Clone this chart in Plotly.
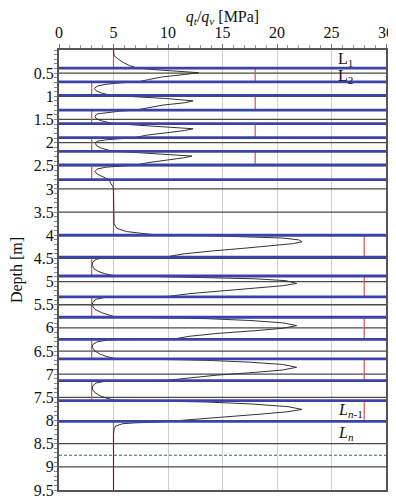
import plotly.graph_objects as go

# Layer boundaries (depth, m) - blue lines
boundaries = [0.39, 0.69, 0.98, 1.30, 1.59, 1.89, 2.19, 2.48, 2.80, 4.00,
              4.47, 4.88, 5.33, 5.77, 6.25, 6.67, 7.14, 7.57, 8.02]
# Design (step) profile: layer tops/bottoms and values
layer_tops = [0.0, 0.39, 0.69, 0.98, 1.30, 1.59, 1.89, 2.19, 2.48, 2.80,
              4.00, 4.47, 4.88, 5.33, 5.77, 6.25, 6.67, 7.14, 7.57, 8.02]
layer_bots = [0.39, 0.69, 0.98, 1.30, 1.59, 1.89, 2.19, 2.48, 2.80, 4.00,
              4.47, 4.88, 5.33, 5.77, 6.25, 6.67, 7.14, 7.57, 8.02, 9.5]
layer_q = [5, 18, 3, 18, 3, 18, 3, 18, 3, 5,
           28, 3, 28, 3, 28, 3, 28, 3, 28, 5]

# Measured profile (depth, q)
curve_depth = [
    0.00, 0.12, 0.19, 0.27, 0.34, 0.39,
    0.42, 0.45, 0.49, 0.53, 0.58, 0.64, 0.69,
    0.71, 0.74, 0.78, 0.83, 0.88, 0.93, 0.98,
    1.01, 1.05, 1.10, 1.14, 1.19, 1.25, 1.30,
    1.32, 1.35, 1.38, 1.43, 1.48, 1.53, 1.58,
    1.62, 1.66, 1.70, 1.74, 1.79, 1.84, 1.89,
    1.91, 1.94, 1.97, 2.02, 2.07, 2.12, 2.18,
    2.21, 2.25, 2.29, 2.33, 2.38, 2.43, 2.48,
    2.50, 2.53, 2.57, 2.62, 2.68, 2.74, 2.80,
    2.88, 2.95, 3.05, 3.60, 3.75, 3.85, 3.92, 3.97,
    4.00, 4.01, 4.03, 4.06, 4.10, 4.14, 4.18, 4.23, 4.28, 4.34, 4.40, 4.46,
    4.48, 4.52, 4.58, 4.65, 4.72, 4.78, 4.83, 4.87,
    4.89, 4.91, 4.94, 4.98, 5.04, 5.09, 5.14, 5.20, 5.26, 5.32,
    5.34, 5.38, 5.45, 5.52, 5.60, 5.67, 5.73, 5.76,
    5.78, 5.80, 5.84, 5.89, 5.95, 6.01, 6.06, 6.12, 6.18, 6.24,
    6.26, 6.30, 6.36, 6.42, 6.50, 6.57, 6.62, 6.66,
    6.68, 6.70, 6.74, 6.79, 6.85, 6.91, 6.96, 7.02, 7.08, 7.13,
    7.15, 7.19, 7.25, 7.32, 7.40, 7.47, 7.52, 7.56,
    7.58, 7.60, 7.64, 7.70, 7.76, 7.81, 7.86, 7.92, 7.97, 8.01,
    8.03, 8.05, 8.07, 8.12, 8.18, 8.30, 9.50,
]
curve_q = [
    5.0, 5.05, 5.4, 5.9, 6.5, 7.2,
    8.5, 10.5, 12.8, 11.5, 9.5, 8.2, 7.2,
    5.6, 4.3, 3.5, 3.25, 3.4, 3.9, 4.8,
    7.0, 10.0, 12.3, 11.5, 9.5, 8.0, 7.0,
    5.6, 4.3, 3.5, 3.3, 3.4, 3.9, 4.8,
    7.0, 10.0, 12.3, 11.5, 9.5, 8.0, 7.0,
    5.6, 4.3, 3.5, 3.35, 3.45, 3.9, 4.8,
    7.0, 10.0, 12.2, 11.4, 9.5, 8.2, 7.2,
    5.6, 4.3, 3.5, 3.3, 3.5, 4.0, 4.6,
    4.75, 4.95, 5.0, 5.0, 5.05, 5.3, 6.2, 8.0,
    9.5, 14.0, 17.5, 20.5, 22.0, 22.3, 21.5, 19.5, 17.0, 14.0, 11.5, 10.0,
    4.2, 3.4, 3.1, 3.05, 3.2, 3.6, 4.2, 5.0,
    9.0, 14.0, 18.0, 20.8, 21.8, 20.5, 17.8, 14.5, 12.0, 10.0,
    4.3, 3.4, 3.1, 3.05, 3.3, 3.9, 4.6, 5.1,
    9.0, 13.5, 17.5, 20.5, 21.8, 20.5, 18.0, 14.5, 12.0, 10.5,
    4.5, 3.5, 3.1, 3.05, 3.3, 3.8, 4.4, 5.1,
    9.0, 13.5, 17.5, 20.5, 21.8, 20.5, 18.0, 14.5, 12.0, 10.0,
    4.3, 3.4, 3.1, 3.05, 3.3, 3.8, 4.4, 5.1,
    9.0, 13.5, 17.5, 21.0, 22.3, 21.0, 18.6, 15.5, 13.1, 11.0,
    9.4, 7.0, 5.8, 5.2, 5.05, 5.0, 5.0,
]

dashed_depth = 8.75
grid_depths = [0.5 * i for i in range(1, 19)]
ytick_vals = [0.5 * i for i in range(1, 20)]
ytick_text = ["0.5", "1", "1.5", "2", "2.5", "3", "3.5", "4", "4.5", "5",
              "5.5", "6", "6.5", "7", "7.5", "8", "8.5", "9", "9.5"]
xtick_vals = [0, 5, 10, 15, 20, 25, 30]

FONT = "Liberation Serif"
BLUE = "#3a43a8"

fig = go.Figure()

# horizontal dark grid lines every 0.5 m
for d in grid_depths:
    fig.add_trace(go.Scatter(x=[0, 30], y=[d, d], mode="lines",
                             line=dict(color="#4a4a4a", width=1.3),
                             hoverinfo="skip", showlegend=False))
# dashed line
fig.add_trace(go.Scatter(x=[0, 30], y=[dashed_depth, dashed_depth], mode="lines",
                         line=dict(color="#3d6b4d", width=1, dash="3px,2px"),
                         hoverinfo="skip", showlegend=False))

# design step profile (red)
step_x, step_y = [], []
for t, b, q in zip(layer_tops, layer_bots, layer_q):
    step_x += [q, q]
    step_y += [t, b]
fig.add_trace(go.Scatter(x=step_x, y=step_y, mode="lines",
                         line=dict(color="#d9534f", width=1.2),
                         hoverinfo="skip", showlegend=False))

# measured curve
fig.add_trace(go.Scatter(x=curve_q, y=curve_depth, mode="lines",
                         line=dict(color="#333333", width=1),
                         hoverinfo="skip", showlegend=False))

# blue boundaries on top
for d in boundaries:
    fig.add_trace(go.Scatter(x=[0, 30], y=[d, d], mode="lines",
                             line=dict(color=BLUE, width=2.8),
                             hoverinfo="skip", showlegend=False))

annots = [
    dict(x=25.4, y=0.21, text="L<sub>1</sub>"),
    dict(x=25.4, y=0.57, text="L<sub>2</sub>"),
    dict(x=25.4, y=7.79, text="<i>L</i><sub><i>n</i>-1</sub>"),
    dict(x=25.4, y=8.27, text="<i>L</i><sub><i>n</i></sub>"),
]
for a in annots:
    fig.add_annotation(x=a["x"], y=a["y"], text=a["text"], showarrow=False,
                       xanchor="left", yanchor="middle",
                       font=dict(family=FONT, size=16, color="#111"))

fig.update_layout(
    width=388, height=492,
    margin=dict(l=51, r=10, t=42, b=10, autoexpand=False),
    paper_bgcolor="white", plot_bgcolor="white",
    font=dict(family=FONT, size=16, color="#111"),
    showlegend=False,
    xaxis=dict(
        side="top", range=[0, 30], tickmode="array", tickvals=xtick_vals,
        ticks="outside", ticklen=4, tickcolor="#777",
        showgrid=True, gridcolor="#d0d0d0", gridwidth=1,
        zeroline=False, showline=True, linecolor="#555", linewidth=2, mirror=True,
        minor=dict(tickmode="linear", tick0=0, dtick=1, ticks="outside",
                   ticklen=3, tickcolor="#999", showgrid=False),
        tickfont=dict(family=FONT, size=16),
        ticklabelstandoff=0,
        automargin=False,
        title=dict(text="<i>q</i><sub><i>t</i></sub>/<i>q</i><sub><i>v</i></sub> [MPa]",
                   font=dict(family=FONT, size=16), standoff=2),
    ),
    yaxis=dict(
        range=[9.5, 0], tickmode="array", tickvals=ytick_vals, ticktext=ytick_text,
        ticks="", showgrid=False, zeroline=False,
        showline=True, linecolor="#555", linewidth=2, mirror=True,
        minor=dict(tickmode="linear", tick0=0, dtick=0.1, ticks="outside",
                   ticklen=3, tickcolor="#888", showgrid=False),
        tickfont=dict(family=FONT, size=16),
        ticklabelstandoff=0,
        automargin=False,
        title=dict(text="Depth [m]", font=dict(family=FONT, size=16), standoff=10),
    ),
)

fig.write_html("out.html")
